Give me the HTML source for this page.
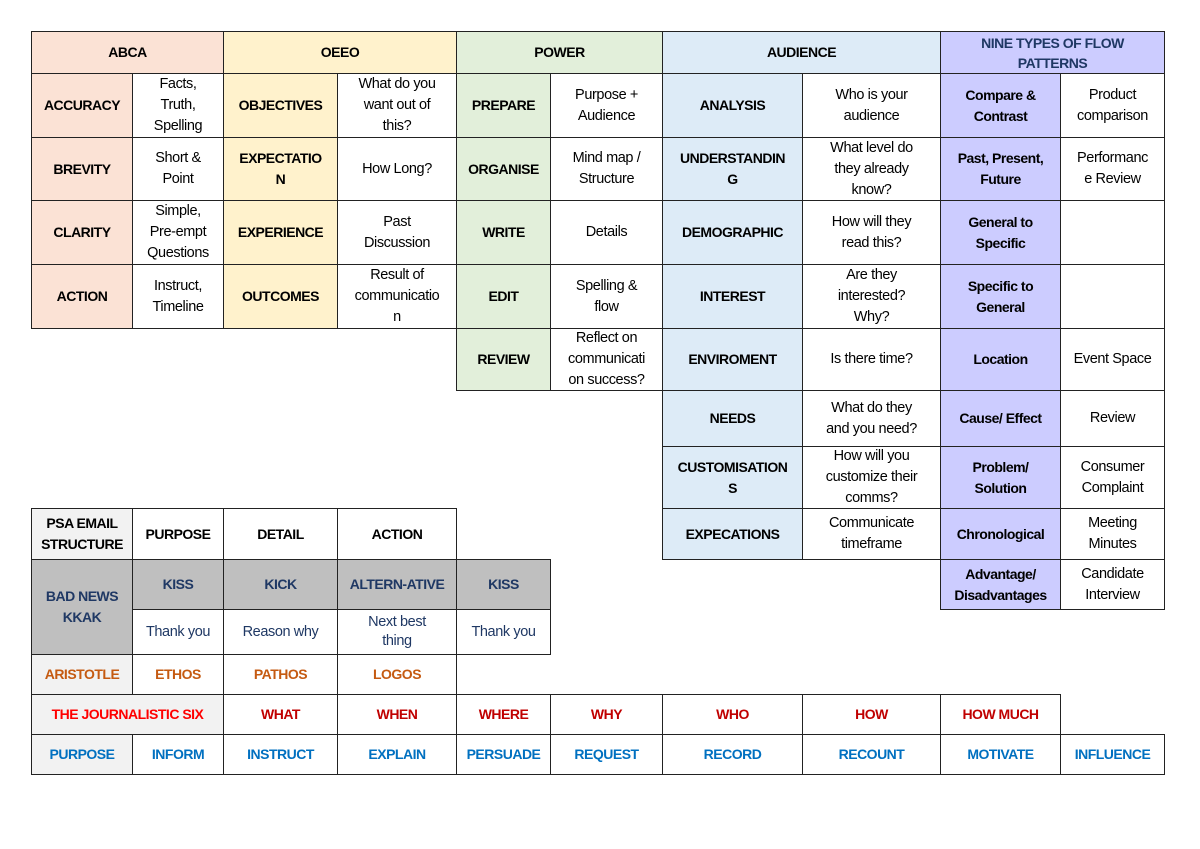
<!DOCTYPE html>
<html><head><meta charset="utf-8"><style>
html,body{margin:0;padding:0;background:#fff;width:1200px;height:849px;overflow:hidden}
.c{position:absolute;box-sizing:border-box;border:1.5px solid #222;display:flex;align-items:center;justify-content:center;text-align:center;font-family:"Liberation Sans",Arial,sans-serif;font-size:14.5px;line-height:21px;color:#000;letter-spacing:-0.4px;padding:0 2px;overflow:hidden;white-space:nowrap}
.b{font-weight:bold;font-size:14px;letter-spacing:-0.5px}
.p{background:#fbe2d5}.y{background:#fff2cc}.g{background:#e2efda}.a{background:#ddebf7}.v{background:#ccccff}.gr{background:#bfbfbf}.lg{background:#f2f2f2}
.nv{color:#1f3864}.or{color:#c55a11}.rd{color:#ff0000}.dr{color:#c00000}.bl{color:#0070c0}
</style></head><body>
<div class="c b p" style="left:31px;top:31px;width:193px;height:43px">ABCA</div>
<div class="c b y" style="left:223px;top:31px;width:234px;height:43px">OEEO</div>
<div class="c b g" style="left:456px;top:31px;width:207px;height:43px">POWER</div>
<div class="c b a" style="left:662px;top:31px;width:279px;height:43px">AUDIENCE</div>
<div class="c b v nv" style="left:940px;top:31px;width:225px;height:43px;line-height:20px">NINE TYPES OF FLOW<br>PATTERNS</div>

<div class="c b p" style="left:31px;top:73px;width:102px;height:65px">ACCURACY</div>
<div class="c" style="left:132px;top:73px;width:92px;height:65px">Facts,<br>Truth,<br>Spelling</div>
<div class="c b p" style="left:31px;top:137px;width:102px;height:64px">BREVITY</div>
<div class="c" style="left:132px;top:137px;width:92px;height:64px">Short &amp;<br>Point</div>
<div class="c b p" style="left:31px;top:200px;width:102px;height:65px">CLARITY</div>
<div class="c" style="left:132px;top:200px;width:92px;height:65px">Simple,<br>Pre-empt<br>Questions</div>
<div class="c b p" style="left:31px;top:264px;width:102px;height:65px">ACTION</div>
<div class="c" style="left:132px;top:264px;width:92px;height:65px">Instruct,<br>Timeline</div>

<div class="c b y" style="left:223px;top:73px;width:115px;height:65px">OBJECTIVES</div>
<div class="c" style="left:337px;top:73px;width:120px;height:65px">What do you<br>want out of<br>this?</div>
<div class="c b y" style="left:223px;top:137px;width:115px;height:64px">EXPECTATIO<br>N</div>
<div class="c" style="left:337px;top:137px;width:120px;height:64px">How Long?</div>
<div class="c b y" style="left:223px;top:200px;width:115px;height:65px">EXPERIENCE</div>
<div class="c" style="left:337px;top:200px;width:120px;height:65px">Past<br>Discussion</div>
<div class="c b y" style="left:223px;top:264px;width:115px;height:65px">OUTCOMES</div>
<div class="c" style="left:337px;top:264px;width:120px;height:65px">Result of<br>communicatio<br>n</div>

<div class="c b g" style="left:456px;top:73px;width:95px;height:65px">PREPARE</div>
<div class="c" style="left:550px;top:73px;width:113px;height:65px">Purpose +<br>Audience</div>
<div class="c b g" style="left:456px;top:137px;width:95px;height:64px">ORGANISE</div>
<div class="c" style="left:550px;top:137px;width:113px;height:64px">Mind map /<br>Structure</div>
<div class="c b g" style="left:456px;top:200px;width:95px;height:65px">WRITE</div>
<div class="c" style="left:550px;top:200px;width:113px;height:65px">Details</div>
<div class="c b g" style="left:456px;top:264px;width:95px;height:65px">EDIT</div>
<div class="c" style="left:550px;top:264px;width:113px;height:65px">Spelling &amp;<br>flow</div>
<div class="c b g" style="left:456px;top:328px;width:95px;height:63px">REVIEW</div>
<div class="c" style="left:550px;top:328px;width:113px;height:63px">Reflect on<br>communicati<br>on success?</div>

<div class="c b a" style="left:662px;top:73px;width:141px;height:65px">ANALYSIS</div>
<div class="c" style="left:802px;top:73px;width:139px;height:65px">Who is your<br>audience</div>
<div class="c b a" style="left:662px;top:137px;width:141px;height:64px">UNDERSTANDIN<br>G</div>
<div class="c" style="left:802px;top:137px;width:139px;height:64px">What level do<br>they already<br>know?</div>
<div class="c b a" style="left:662px;top:200px;width:141px;height:65px">DEMOGRAPHIC</div>
<div class="c" style="left:802px;top:200px;width:139px;height:65px">How will they<br>read this?</div>
<div class="c b a" style="left:662px;top:264px;width:141px;height:65px">INTEREST</div>
<div class="c" style="left:802px;top:264px;width:139px;height:65px">Are they<br>interested?<br>Why?</div>
<div class="c b a" style="left:662px;top:328px;width:141px;height:63px">ENVIROMENT</div>
<div class="c" style="left:802px;top:328px;width:139px;height:63px">Is there time?</div>
<div class="c b a" style="left:662px;top:390px;width:141px;height:57px">NEEDS</div>
<div class="c" style="left:802px;top:390px;width:139px;height:57px">What do they<br>and you need?</div>
<div class="c b a" style="left:662px;top:446px;width:141px;height:63px">CUSTOMISATION<br>S</div>
<div class="c" style="left:802px;top:446px;width:139px;height:63px">How will you<br>customize their<br>comms?</div>
<div class="c b a" style="left:662px;top:508px;width:141px;height:52px">EXPECATIONS</div>
<div class="c" style="left:802px;top:508px;width:139px;height:52px">Communicate<br>timeframe</div>

<div class="c b v" style="left:940px;top:73px;width:121px;height:65px">Compare &amp;<br>Contrast</div>
<div class="c" style="left:1060px;top:73px;width:105px;height:65px">Product<br>comparison</div>
<div class="c b v" style="left:940px;top:137px;width:121px;height:64px">Past, Present,<br>Future</div>
<div class="c" style="left:1060px;top:137px;width:105px;height:64px">Performanc<br>e Review</div>
<div class="c b v" style="left:940px;top:200px;width:121px;height:65px">General to<br>Specific</div>
<div class="c" style="left:1060px;top:200px;width:105px;height:65px"></div>
<div class="c b v" style="left:940px;top:264px;width:121px;height:65px">Specific to<br>General</div>
<div class="c" style="left:1060px;top:264px;width:105px;height:65px"></div>
<div class="c b v" style="left:940px;top:328px;width:121px;height:63px">Location</div>
<div class="c" style="left:1060px;top:328px;width:105px;height:63px">Event Space</div>
<div class="c b v" style="left:940px;top:390px;width:121px;height:57px">Cause/ Effect</div>
<div class="c" style="left:1060px;top:390px;width:105px;height:57px">Review</div>
<div class="c b v" style="left:940px;top:446px;width:121px;height:63px">Problem/<br>Solution</div>
<div class="c" style="left:1060px;top:446px;width:105px;height:63px">Consumer<br>Complaint</div>
<div class="c b v" style="left:940px;top:508px;width:121px;height:52px">Chronological</div>
<div class="c" style="left:1060px;top:508px;width:105px;height:52px">Meeting<br>Minutes</div>
<div class="c b v" style="left:940px;top:559px;width:121px;height:51px">Advantage/<br>Disadvantages</div>
<div class="c" style="left:1060px;top:559px;width:105px;height:51px">Candidate<br>Interview</div>

<div class="c b lg" style="left:31px;top:508px;width:102px;height:52px">PSA EMAIL<br>STRUCTURE</div>
<div class="c b" style="left:132px;top:508px;width:92px;height:52px">PURPOSE</div>
<div class="c b" style="left:223px;top:508px;width:115px;height:52px">DETAIL</div>
<div class="c b" style="left:337px;top:508px;width:120px;height:52px">ACTION</div>
<div class="c b gr nv" style="left:31px;top:559px;width:102px;height:96px">BAD NEWS<br>KKAK</div>
<div class="c b gr nv" style="left:132px;top:559px;width:92px;height:51px">KISS</div>
<div class="c b gr nv" style="left:223px;top:559px;width:115px;height:51px">KICK</div>
<div class="c b gr nv" style="left:337px;top:559px;width:120px;height:51px">ALTERN-ATIVE</div>
<div class="c b gr nv" style="left:456px;top:559px;width:95px;height:51px">KISS</div>
<div class="c nv" style="left:132px;top:609px;width:92px;height:46px">Thank you</div>
<div class="c nv" style="left:223px;top:609px;width:115px;height:46px">Reason why</div>
<div class="c nv" style="left:337px;top:609px;width:120px;height:46px;line-height:19px">Next best<br>thing</div>
<div class="c nv" style="left:456px;top:609px;width:95px;height:46px">Thank you</div>
<div class="c b lg or" style="left:31px;top:654px;width:102px;height:41px">ARISTOTLE</div>
<div class="c b or" style="left:132px;top:654px;width:92px;height:41px">ETHOS</div>
<div class="c b or" style="left:223px;top:654px;width:115px;height:41px">PATHOS</div>
<div class="c b or" style="left:337px;top:654px;width:120px;height:41px">LOGOS</div>

<div class="c b lg rd" style="left:31px;top:694px;width:193px;height:41px">THE JOURNALISTIC SIX</div>
<div class="c b dr" style="left:223px;top:694px;width:115px;height:41px">WHAT</div>
<div class="c b dr" style="left:337px;top:694px;width:120px;height:41px">WHEN</div>
<div class="c b dr" style="left:456px;top:694px;width:95px;height:41px">WHERE</div>
<div class="c b dr" style="left:550px;top:694px;width:113px;height:41px">WHY</div>
<div class="c b dr" style="left:662px;top:694px;width:141px;height:41px">WHO</div>
<div class="c b dr" style="left:802px;top:694px;width:139px;height:41px">HOW</div>
<div class="c b dr" style="left:940px;top:694px;width:121px;height:41px">HOW MUCH</div>
<div class="c b lg bl" style="left:31px;top:734px;width:102px;height:41px">PURPOSE</div>
<div class="c b bl" style="left:132px;top:734px;width:92px;height:41px">INFORM</div>
<div class="c b bl" style="left:223px;top:734px;width:115px;height:41px">INSTRUCT</div>
<div class="c b bl" style="left:337px;top:734px;width:120px;height:41px">EXPLAIN</div>
<div class="c b bl" style="left:456px;top:734px;width:95px;height:41px">PERSUADE</div>
<div class="c b bl" style="left:550px;top:734px;width:113px;height:41px">REQUEST</div>
<div class="c b bl" style="left:662px;top:734px;width:141px;height:41px">RECORD</div>
<div class="c b bl" style="left:802px;top:734px;width:139px;height:41px">RECOUNT</div>
<div class="c b bl" style="left:940px;top:734px;width:121px;height:41px">MOTIVATE</div>
<div class="c b bl" style="left:1060px;top:734px;width:105px;height:41px">INFLUENCE</div>
</body></html>
